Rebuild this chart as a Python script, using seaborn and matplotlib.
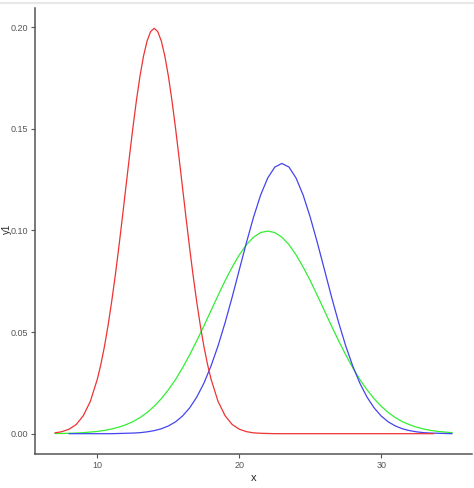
import matplotlib
matplotlib.use("Agg")
import matplotlib.pyplot as plt
from matplotlib.lines import Line2D
import seaborn as sns
import pandas as pd

# x grids per series
x_red = [7, 7.5, 8, 8.5, 9, 9.5, 10, 10.25, 10.5, 10.75, 11, 11.25, 11.5, 11.75,
         12, 12.25, 12.5, 12.75, 13, 13.25, 13.5, 13.75, 14,
         14.25, 14.5, 14.75, 15, 15.25, 15.5, 15.75, 16, 16.25, 16.5, 16.75, 17,
         17.25, 17.5, 17.75, 18, 18.5, 19, 19.5, 20, 20.5, 21,
         21.5, 22, 22.5, 23, 24, 25, 26, 27, 28, 29, 30, 31, 32, 33, 33.7]
y_red = [0.0004, 0.0010, 0.0022, 0.0045, 0.0088, 0.0159, 0.0270, 0.0344, 0.0431,
         0.0533, 0.0648, 0.0775, 0.0913, 0.1059,
         0.1210, 0.1360, 0.1506, 0.1641, 0.1760, 0.1859, 0.1933, 0.1979, 0.1995,
         0.1979, 0.1933, 0.1859, 0.1760, 0.1641, 0.1506, 0.1360, 0.1210, 0.1059,
         0.0913, 0.0775, 0.0648, 0.0533, 0.0431, 0.0344, 0.0270, 0.0159,
         0.0088, 0.0045, 0.0022, 0.0010, 0.0004,
         0.0002, 0.0001, 0.0, 0.0, 0.0, 0.0, 0.0, 0.0, 0.0, 0.0, 0.0, 0.0, 0.0, 0.0, 0.0]

x_blue = [8, 9, 10, 10.5, 11, 11.5, 12, 12.5, 13, 13.5, 14, 14.5, 15, 15.5, 16,
          16.5, 17, 17.5, 18, 18.5, 19, 19.5, 20, 20.5, 21, 21.5, 22, 22.5, 23,
          23.5, 24, 24.5, 25, 25.5, 26, 26.5, 27, 27.5, 28, 28.5, 29, 29.5, 30,
          30.5, 31, 31.5, 32, 32.5, 33, 33.5, 34, 34.5, 35]
y_blue = [0.0, 0.0, 0.0, 0.0, 0.0, 0.0001, 0.0002, 0.0003, 0.0005, 0.0009, 0.0015,
          0.0024, 0.0038, 0.0058, 0.0087, 0.0127, 0.0180, 0.0248, 0.0332, 0.0432,
          0.0547, 0.0673, 0.0807, 0.0940, 0.1065, 0.1174, 0.1258, 0.1312, 0.1330,
          0.1312, 0.1258, 0.1174, 0.1065, 0.0940, 0.0807, 0.0673, 0.0547, 0.0432,
          0.0332, 0.0248, 0.0180, 0.0127, 0.0087, 0.0058, 0.0038, 0.0024, 0.0015,
          0.0009, 0.0005, 0.0003, 0.0002, 0.0001, 0.0]

x_green = [7, 7.5, 8, 8.5, 9, 9.5, 10, 10.5, 11, 11.5, 12, 12.5, 13, 13.5, 14,
           14.5, 15, 15.5, 16, 16.5, 17, 17.5, 18, 18.5, 19, 19.5, 20, 20.5, 21,
           21.5, 22, 22.5, 23, 23.5, 24, 24.5, 25, 25.5, 26, 26.5, 27, 27.5, 28,
           28.5, 29, 29.5, 30, 30.5, 31, 31.5, 32, 32.5, 33, 33.5, 34, 34.5, 35]
y_green = [0.0001, 0.0001, 0.0002, 0.0003, 0.0005, 0.0008, 0.0011, 0.0016, 0.0023,
           0.0032, 0.0044, 0.0059, 0.0079, 0.0104, 0.0135, 0.0172, 0.0216, 0.0266,
           0.0324, 0.0388, 0.0457, 0.0530, 0.0605, 0.0680, 0.0753, 0.0820, 0.0880,
           0.0930, 0.0967, 0.0990, 0.0997, 0.0990, 0.0967, 0.0930, 0.0880, 0.0820,
           0.0753, 0.0680, 0.0605, 0.0530, 0.0457, 0.0388, 0.0324, 0.0266, 0.0216,
           0.0172, 0.0135, 0.0104, 0.0079, 0.0059, 0.0044, 0.0032, 0.0023, 0.0016,
           0.0011, 0.0008, 0.0005]

series_names = ["green", "blue", "red"]
colors = {"green": "#33ee33", "blue": "#4444ee", "red": "#ee3333"}

df = pd.concat([
    pd.DataFrame({"x": x_green, "y1": y_green, "s": "green"}),
    pd.DataFrame({"x": x_blue, "y1": y_blue, "s": "blue"}),
    pd.DataFrame({"x": x_red, "y1": y_red, "s": "red"}),
], ignore_index=True)

sns.set_theme(style="white")
plt.rcParams["font.family"] = ["Liberation Sans", "DejaVu Sans"]

fig = plt.figure(figsize=(4.74, 4.88), dpi=100)
ax = fig.add_axes([35 / 474, 1 - 454 / 488, (472 - 35) / 474, (454 - 8) / 488])

sns.lineplot(data=df, x="x", y="y1", hue="s", hue_order=series_names,
             palette=colors, linewidth=0.9, legend=False, ax=ax, sort=True,
             estimator=None)

ax.set_xlim(5.6, 36.4)
ax.set_ylim(-0.01, 0.2095)
ax.set_xticks([10, 20, 30])
ax.set_yticks([0.0, 0.05, 0.10, 0.15, 0.20])
ax.set_yticklabels(["0.00", "0.05", "0.10", "0.15", "0.20"])

for sp in ["top", "right"]:
    ax.spines[sp].set_visible(False)
for sp in ["left", "bottom"]:
    ax.spines[sp].set_color("#555555")
    ax.spines[sp].set_linewidth(1.1)

ax.tick_params(axis="both", which="both", length=3, width=0.8, color="#555555",
               labelsize=6.5, labelcolor="#555555", pad=2, left=True, bottom=True)
ax.set_xlabel("x", fontsize=8, color="#222222", labelpad=2)
ax.set_ylabel("y1", fontsize=7, color="#222222")
ax.yaxis.set_label_coords(-0.053, 0.505)

fig.add_artist(Line2D([0, 1], [1 - 2.5 / 488, 1 - 2.5 / 488], color="#e8e8e8",
                      linewidth=1.5, transform=fig.transFigure))

fig.savefig("out.png", dpi=100, facecolor="white")
